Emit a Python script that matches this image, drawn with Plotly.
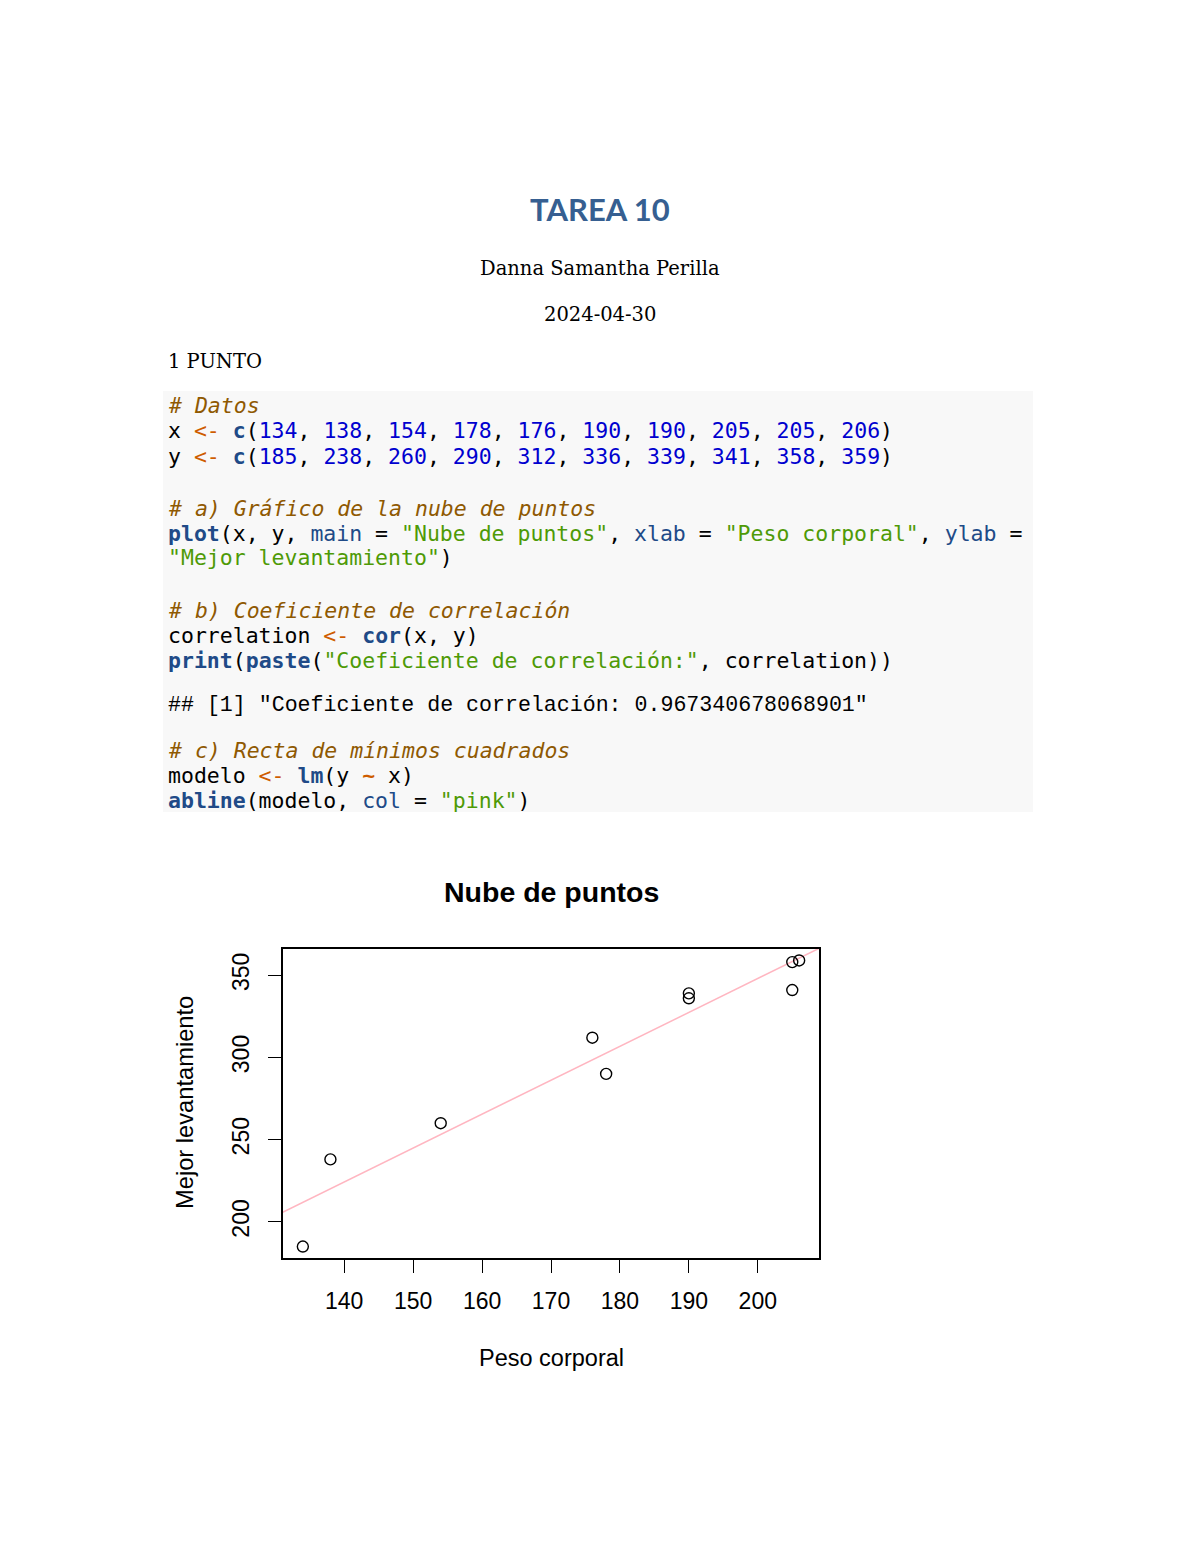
import numpy as np
import plotly.graph_objects as go

# datos del documento
peso = [134, 138, 154, 178, 176, 190, 190, 205, 205, 206]
levantamiento = [185, 238, 260, 290, 312, 336, 339, 341, 358, 359]
x_ticks = [140, 150, 160, 170, 180, 190, 200]
y_ticks = [200, 250, 300, 350]
correlacion_txt = "0.967340678068901"

# la pagina html tiene 8px de margen en body
OFF = 8
W, H = 1200 - 2 * OFF, 1553 - 2 * OFF
# caja del grafico en pixeles de la pagina
L, R, T, B = 283 - OFF, 819 - OFF, 949 - OFF, 1258 - OFF


def px(xp):
    return (xp - OFF - L) / (R - L)


def py(yp):
    return (B - (yp - OFF)) / (B - T)


def r_range(v):
    lo, hi = min(v), max(v)
    d = (hi - lo) * 0.04
    return [lo - d, hi + d]


xr = r_range(peso)
yr = r_range(levantamiento)

# recta de minimos cuadrados (lm)
b1, b0 = np.polyfit(peso, levantamiento, 1)
line_x = np.array([xr[0] - 5, xr[1] + 5])
line_y = b0 + b1 * line_x

fig = go.Figure()
fig.add_trace(go.Scatter(x=line_x, y=line_y, mode="lines",
                         line=dict(color="#FFB6C1", width=1.5), hoverinfo="skip"))
fig.add_trace(go.Scatter(x=peso, y=levantamiento, mode="markers",
                         marker=dict(symbol="circle-open", size=11, color="black",
                                     line=dict(width=1.4, color="black"))))

# --- resaltado del codigo ---
COM, OP, FN, NUM, STR, ARG = "#8f5902", "#ce5c00", "#204a87", "#0000cf", "#4e9a06", "#204a87"


def c(t, col):
    return f'<span style="color:{col}">{t}</span>'


def com(t):
    return f'<i>{c(t, COM)}</i>'


def fn(t):
    return f'<b>{c(t, FN)}</b>'


def op(t):
    return c(t, OP)


def num_list(v):
    return ", ".join(c(str(n), NUM) for n in v)


arrow = op("&lt;-")
q = '"'
code_lines = [
    (405, com("# Datos")),
    (430, f'x {arrow} {fn("c")}({num_list(peso)})'),
    (456, f'y {arrow} {fn("c")}({num_list(levantamiento)})'),
    (508, com("# a) Gráfico de la nube de puntos")),
    (533, f'{fn("plot")}(x, y, {c("main", ARG)} = {c(q + "Nube de puntos" + q, STR)}, '
          f'{c("xlab", ARG)} = {c(q + "Peso corporal" + q, STR)}, {c("ylab", ARG)} ='),
    (557, c(q + "Mejor levantamiento" + q, STR) + ")"),
    (610, com("# b) Coeficiente de correlación")),
    (635, f'correlation {arrow} {fn("cor")}(x, y)'),
    (660, f'{fn("print")}({fn("paste")}({c(q + "Coeficiente de correlación:" + q, STR)}, correlation))'),
    (750, com("# c) Recta de mínimos cuadrados")),
    (775, f'modelo {arrow} {fn("lm")}(y {op("<b>~</b>")} x)'),
    (800, f'{fn("abline")}(modelo, {c("col", ARG)} = {c(q + "pink" + q, STR)})'),
]
out_line = (705, f'## [1] "Coeficiente de correlación: {correlacion_txt}"')

ann = []
mono = "DejaVu Sans Mono"
for yp, txt in code_lines:
    ann.append(dict(x=px(166), y=py(yp), text=txt, xanchor="left",
                    font=dict(family=mono, size=21.5, color="#000000")))
ann.append(dict(x=px(166), y=py(out_line[0]), text=out_line[1], xanchor="left",
                font=dict(family="Liberation Mono", size=21.6, color="#000000")))

# encabezado del documento
ann += [
    dict(x=px(600), y=py(209), text="<b>TAREA 10</b>", xanchor="center",
         font=dict(family="Lato", size=31, color="#365F91")),
    dict(x=px(600), y=py(268), text="Danna Samantha Perilla", xanchor="center",
         font=dict(family="DejaVu Serif", size=19.5, color="#000000")),
    dict(x=px(600), y=py(314), text="2024-04-30", xanchor="center",
         font=dict(family="DejaVu Serif", size=19.5, color="#000000")),
    dict(x=px(166), y=py(362), text="1 PUNTO", xanchor="left",
         font=dict(family="DejaVu Serif", size=19.5, color="#000000")),
    # titulos del grafico
    dict(x=px(551), y=py(892), text="<b>Nube de puntos</b>", xanchor="center",
         font=dict(family="Liberation Sans", size=28.5, color="#000000")),
    dict(x=px(551), y=py(1358), text="Peso corporal", xanchor="center",
         font=dict(family="Liberation Sans", size=23.5, color="#000000")),
    dict(x=px(185), y=py(1103), text="Mejor levantamiento", xanchor="center", textangle=-90,
         font=dict(family="Liberation Sans", size=23.7, color="#000000")),
]
for a in ann:
    a.update(xref="paper", yref="paper", showarrow=False, yanchor="middle")

fig.update_layout(
    width=W, height=H,
    margin=dict(l=L, r=W - R, t=T, b=H - B, pad=0),
    paper_bgcolor="white", plot_bgcolor="white",
    showlegend=False,
    annotations=ann,
    shapes=[dict(type="rect", xref="paper", yref="paper",
                 x0=px(163), x1=px(1033), y0=py(391), y1=py(812),
                 fillcolor="#f8f8f8", line=dict(width=0), layer="below")],
)
axis_common = dict(showline=True, linecolor="black", linewidth=1.5, mirror=True,
                   ticks="outside", ticklen=13, tickwidth=1.3, tickcolor="black",
                   showgrid=False, zeroline=False,
                   tickfont=dict(family="Liberation Sans", size=23, color="black"))
fig.update_xaxes(range=xr, tickvals=x_ticks, ticklabelstandoff=9, **axis_common)
fig.update_yaxes(range=yr, tickvals=y_ticks, tickangle=-90, ticklabelstandoff=10, **axis_common)

fig.write_html("out.html")
